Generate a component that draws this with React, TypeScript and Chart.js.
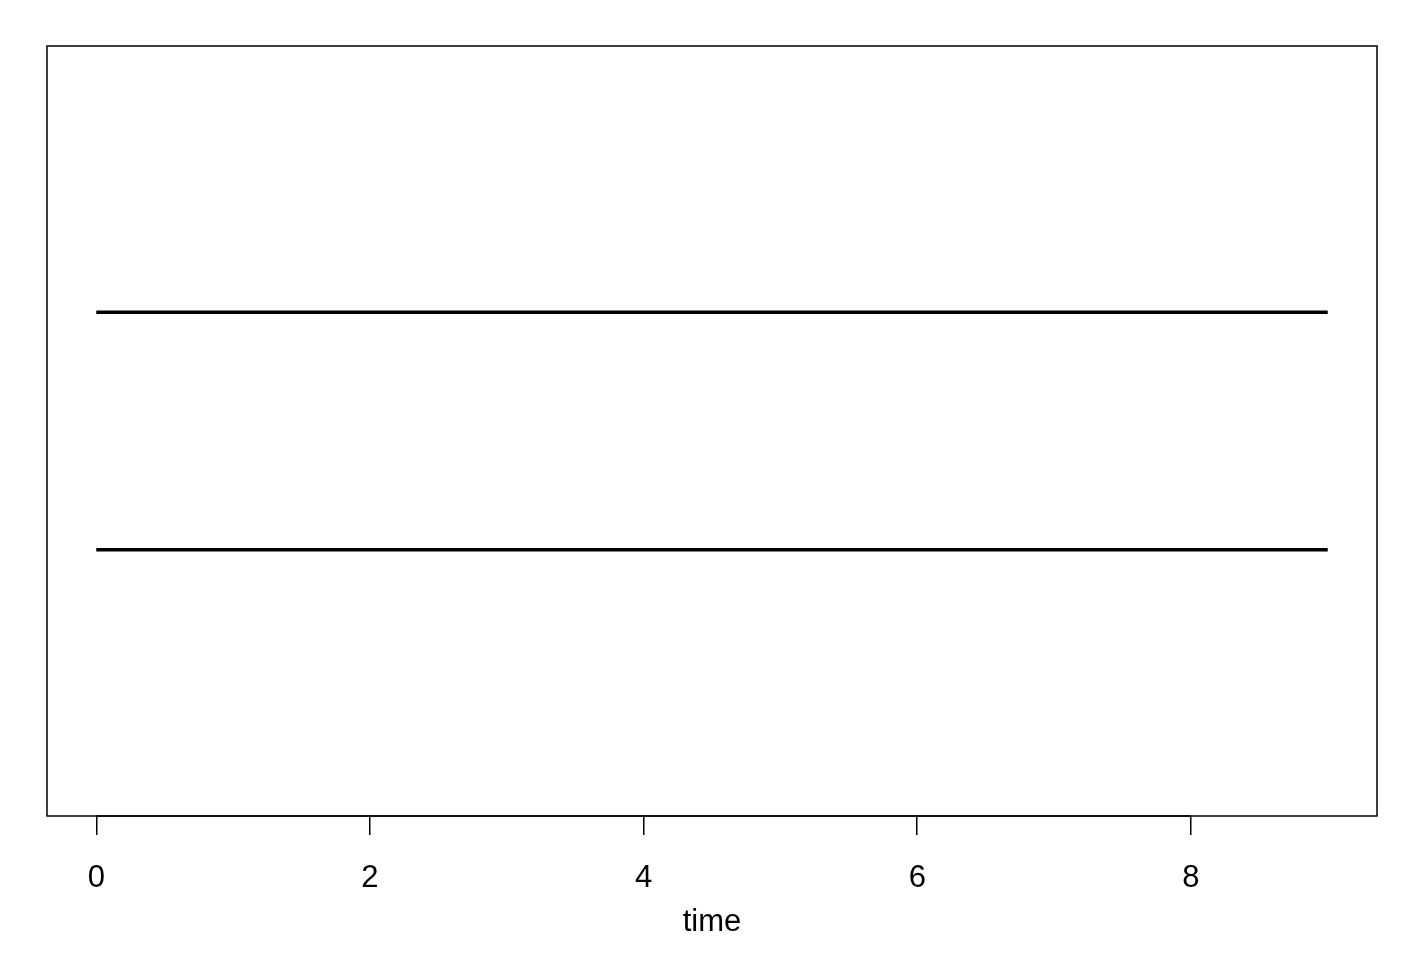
import React, { useEffect, useRef } from "react";
import { Chart, registerables } from "chart.js";

Chart.register(...registerables);

const times = [0, 1, 2, 3, 4, 5, 6, 7, 8, 9];
const upperSeries = [2, 2, 2, 2, 2, 2, 2, 2, 2, 2];
const lowerSeries = [1, 1, 1, 1, 1, 1, 1, 1, 1, 1];
const xTicks = [0, 2, 4, 6, 8];
const xLimits = [0, 9];
const yLimits = [0, 3];

const FONT = "'Liberation Sans', Arial, Helvetica, sans-serif";

const ext = (lim: number[]) => {
  const d = (lim[1] - lim[0]) * 0.04;
  return [lim[0] - d, lim[1] + d];
};

const framePlugin = {
  id: "rframe",
  afterDraw(chart: any) {
    const { ctx, chartArea } = chart;
    const xs = chart.scales.x;
    ctx.save();
    ctx.strokeStyle = "#000";
    ctx.lineWidth = 1.5;
    ctx.strokeRect(
      chartArea.left,
      chartArea.top,
      chartArea.right - chartArea.left,
      chartArea.bottom - chartArea.top
    );
    const a = xs.getPixelForValue(xTicks[0]);
    const b = xs.getPixelForValue(xTicks[xTicks.length - 1]);
    ctx.beginPath();
    ctx.moveTo(a, chartArea.bottom);
    ctx.lineTo(b, chartArea.bottom);
    ctx.stroke();
    ctx.restore();
  },
};

export default function App() {
  const ref = useRef<HTMLCanvasElement>(null);
  useEffect(() => {
    if (!ref.current) return;
    const xr = ext(xLimits);
    const yr = ext(yLimits);
    const chart = new Chart(ref.current, {
      type: "line",
      data: {
        datasets: [
          {
            data: times.map((t, i) => ({ x: t, y: upperSeries[i] })),
            borderColor: "#000",
            borderWidth: 3.5,
            pointRadius: 0,
            fill: false,
          },
          {
            data: times.map((t, i) => ({ x: t, y: lowerSeries[i] })),
            borderColor: "#000",
            borderWidth: 3.5,
            pointRadius: 0,
            fill: false,
          },
        ],
      },
      options: {
        animation: false,
        responsive: false,
        devicePixelRatio: 1,
        layout: { padding: { left: 47, right: 35, top: 46, bottom: 0 } },
        plugins: { legend: { display: false }, tooltip: { enabled: false } },
        scales: {
          x: {
            type: "linear",
            min: xr[0],
            max: xr[1],
            afterFit: (s: any) => {
              s.height = 150;
            },
            afterBuildTicks: (s: any) => {
              s.ticks = xTicks.map((v) => ({ value: v }));
            },
            border: { display: false },
            grid: {
              display: true,
              drawOnChartArea: false,
              drawTicks: true,
              tickLength: 19,
              color: "#000",
              lineWidth: 1.5,
            },
            ticks: {
              color: "#000",
              font: { family: FONT, size: 31 },
              padding: 25,
              maxRotation: 0,
              autoSkip: false,
            },
            title: {
              display: true,
              text: "time",
              color: "#000",
              font: { family: FONT, size: 31 },
              padding: { top: 0, bottom: 25 },
            },
          },
          y: {
            type: "linear",
            min: yr[0],
            max: yr[1],
            display: false,
          },
        },
      },
      plugins: [framePlugin],
    });
    return () => chart.destroy();
  }, []);
  return (
    <div style={{ position: "fixed", left: 0, top: 0, width: 1412, height: 966, background: "#fff" }}>
      <canvas ref={ref} width={1412} height={966} style={{ width: 1412, height: 966 }} />
    </div>
  );
}
